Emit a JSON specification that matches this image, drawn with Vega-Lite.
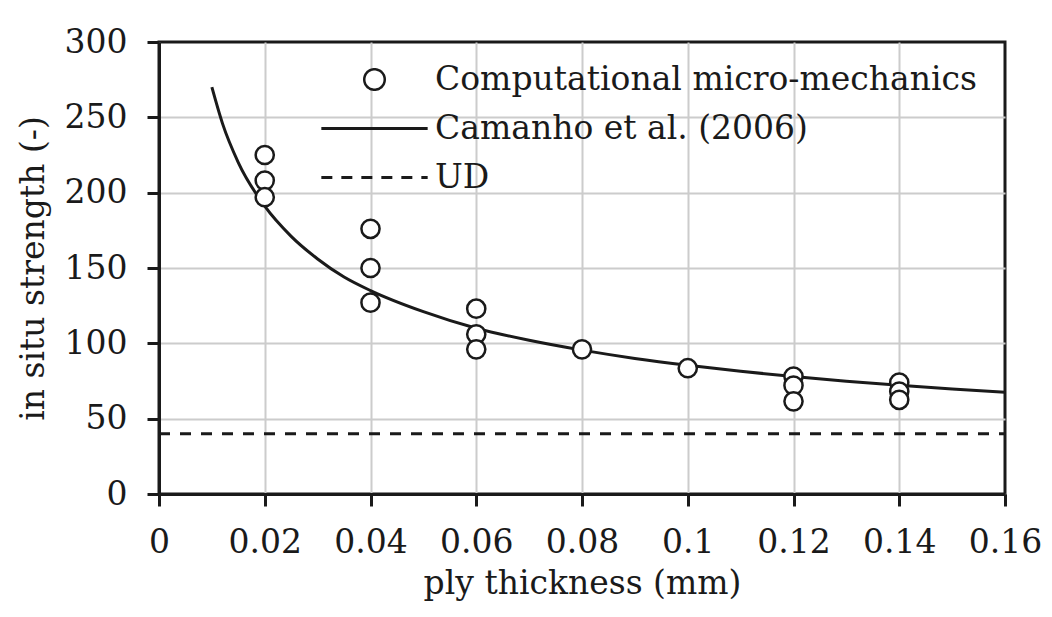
{
  "$schema": "https://vega.github.io/schema/vega-lite/v6.json",
  "width": 846,
  "height": 452,
  "autosize": {"type": "none"},
  "padding": {"left": 159, "top": 42, "right": 47, "bottom": 123},
  "background": "white",
  "config": {
    "font": "DejaVu Serif",
    "view": {"stroke": "#1a1a1a", "strokeWidth": 3},
    "axis": {
      "domainColor": "#1a1a1a", "domainWidth": 3,
      "tickColor": "#1a1a1a", "tickWidth": 3, "tickSize": 12,
      "gridColor": "#cccccc", "gridWidth": 2,
      "labelFont": "DejaVu Serif", "labelFontSize": 33, "labelColor": "#1a1a1a",
      "titleFont": "DejaVu Serif", "titleFontSize": 33, "titleFontWeight": "normal", "titleColor": "#1a1a1a"
    }
  },
  "datasets": {
    "pts": [
      {"t": 0.02, "s": 225, "series": "Computational micro-mechanics"},
      {"t": 0.02, "s": 208, "series": "Computational micro-mechanics"},
      {"t": 0.02, "s": 197, "series": "Computational micro-mechanics"},
      {"t": 0.04, "s": 176, "series": "Computational micro-mechanics"},
      {"t": 0.04, "s": 150, "series": "Computational micro-mechanics"},
      {"t": 0.04, "s": 127, "series": "Computational micro-mechanics"},
      {"t": 0.06, "s": 123, "series": "Computational micro-mechanics"},
      {"t": 0.06, "s": 106, "series": "Computational micro-mechanics"},
      {"t": 0.06, "s": 96, "series": "Computational micro-mechanics"},
      {"t": 0.08, "s": 96, "series": "Computational micro-mechanics"},
      {"t": 0.1, "s": 83.5, "series": "Computational micro-mechanics"},
      {"t": 0.12, "s": 78, "series": "Computational micro-mechanics"},
      {"t": 0.12, "s": 72, "series": "Computational micro-mechanics"},
      {"t": 0.12, "s": 61.5, "series": "Computational micro-mechanics"},
      {"t": 0.14, "s": 74, "series": "Computational micro-mechanics"},
      {"t": 0.14, "s": 68, "series": "Computational micro-mechanics"},
      {"t": 0.14, "s": 62.5, "series": "Computational micro-mechanics"}
    ],
    "curve": [
      {"t": 0.01, "s": 270, "series": "Camanho et al. (2006)"},
      {"t": 0.012, "s": 246, "series": "Camanho et al. (2006)"},
      {"t": 0.015, "s": 220, "series": "Camanho et al. (2006)"},
      {"t": 0.02, "s": 191, "series": "Camanho et al. (2006)"},
      {"t": 0.025, "s": 171, "series": "Camanho et al. (2006)"},
      {"t": 0.03, "s": 156, "series": "Camanho et al. (2006)"},
      {"t": 0.035, "s": 144, "series": "Camanho et al. (2006)"},
      {"t": 0.04, "s": 135, "series": "Camanho et al. (2006)"},
      {"t": 0.05, "s": 121, "series": "Camanho et al. (2006)"},
      {"t": 0.06, "s": 110, "series": "Camanho et al. (2006)"},
      {"t": 0.07, "s": 102, "series": "Camanho et al. (2006)"},
      {"t": 0.08, "s": 95.5, "series": "Camanho et al. (2006)"},
      {"t": 0.09, "s": 90, "series": "Camanho et al. (2006)"},
      {"t": 0.1, "s": 85.4, "series": "Camanho et al. (2006)"},
      {"t": 0.11, "s": 81.4, "series": "Camanho et al. (2006)"},
      {"t": 0.12, "s": 78, "series": "Camanho et al. (2006)"},
      {"t": 0.13, "s": 74.9, "series": "Camanho et al. (2006)"},
      {"t": 0.14, "s": 72.2, "series": "Camanho et al. (2006)"},
      {"t": 0.15, "s": 69.7, "series": "Camanho et al. (2006)"},
      {"t": 0.16, "s": 67.5, "series": "Camanho et al. (2006)"}
    ],
    "ud": [
      {"t": 0, "s": 40, "series": "UD"},
      {"t": 0.16, "s": 40, "series": "UD"}
    ]
  },
  "encoding": {
    "x": {
      "field": "t", "type": "quantitative",
      "scale": {"domain": [0, 0.16], "nice": false, "zero": false},
      "axis": {
        "values": [0, 0.02, 0.04, 0.06, 0.08, 0.1, 0.12, 0.14, 0.16], "format": "~g",
        "labelOverlap": false, "labelFlush": false,
        "labelPadding": 20, "title": "ply thickness (mm)", "titlePadding": 8,
        "gridColor": {"condition": {"test": "datum.value >= 0.159", "value": "transparent"}, "value": "#cccccc"}
      }
    },
    "y": {
      "field": "s", "type": "quantitative",
      "scale": {"domain": [0, 300], "nice": false},
      "axis": {
        "values": [0, 50, 100, 150, 200, 250, 300], "labelPadding": 20,
        "labelOverlap": false, "labelFlush": false,
        "title": "in situ strength (-)", "titlePadding": 14,
        "gridColor": {"condition": {"test": "datum.value >= 299", "value": "transparent"}, "value": "#cccccc"}
      }
    },
    "stroke": {
      "field": "series", "type": "nominal",
      "scale": {"domain": ["Computational micro-mechanics", "Camanho et al. (2006)", "UD"], "range": ["#1a1a1a", "#1a1a1a", "#1a1a1a"]},
      "legend": {
        "orient": "none", "legendX": 199, "legendY": 21,
        "title": null,
        "symbolSize": 314, "symbolStrokeWidth": 2.5,
        "labelFont": "DejaVu Serif", "labelFontSize": 33, "labelColor": "#1a1a1a",
        "labelLimit": 0,
        "labelOffset": 44, "rowPadding": 15,
        "fillColor": "transparent",
        "encode": {
          "symbols": {
            "update": {
              "shape": {"signal": "datum.value === 'Computational micro-mechanics' ? 'circle' : 'M-6,0H6'"},
              "size": {"signal": "datum.value === 'Computational micro-mechanics' ? 420 : 314"},
              "strokeDash": {"signal": "datum.value === 'UD' ? [11, 9] : [1, 0]"},
              "fill": {"signal": "datum.value === 'Computational micro-mechanics' ? 'white' : 'transparent'"},
              "stroke": {"value": "#1a1a1a"},
              "strokeWidth": {"signal": "datum.value === 'Computational micro-mechanics' ? 2.5 : 3"},
              "opacity": {"value": 1}
            }
          }
        }
      }
    }
  },
  "layer": [
    {
      "data": {"name": "ud"},
      "mark": {"type": "line", "strokeDash": [11, 10], "strokeWidth": 3}
    },
    {
      "data": {"name": "curve"},
      "mark": {"type": "line", "interpolate": "monotone", "strokeWidth": 3}
    },
    {
      "data": {"name": "pts"},
      "mark": {"type": "point", "shape": "circle", "size": 330, "filled": true, "fill": "white", "strokeWidth": 2.5, "opacity": 1}
    }
  ]
}
